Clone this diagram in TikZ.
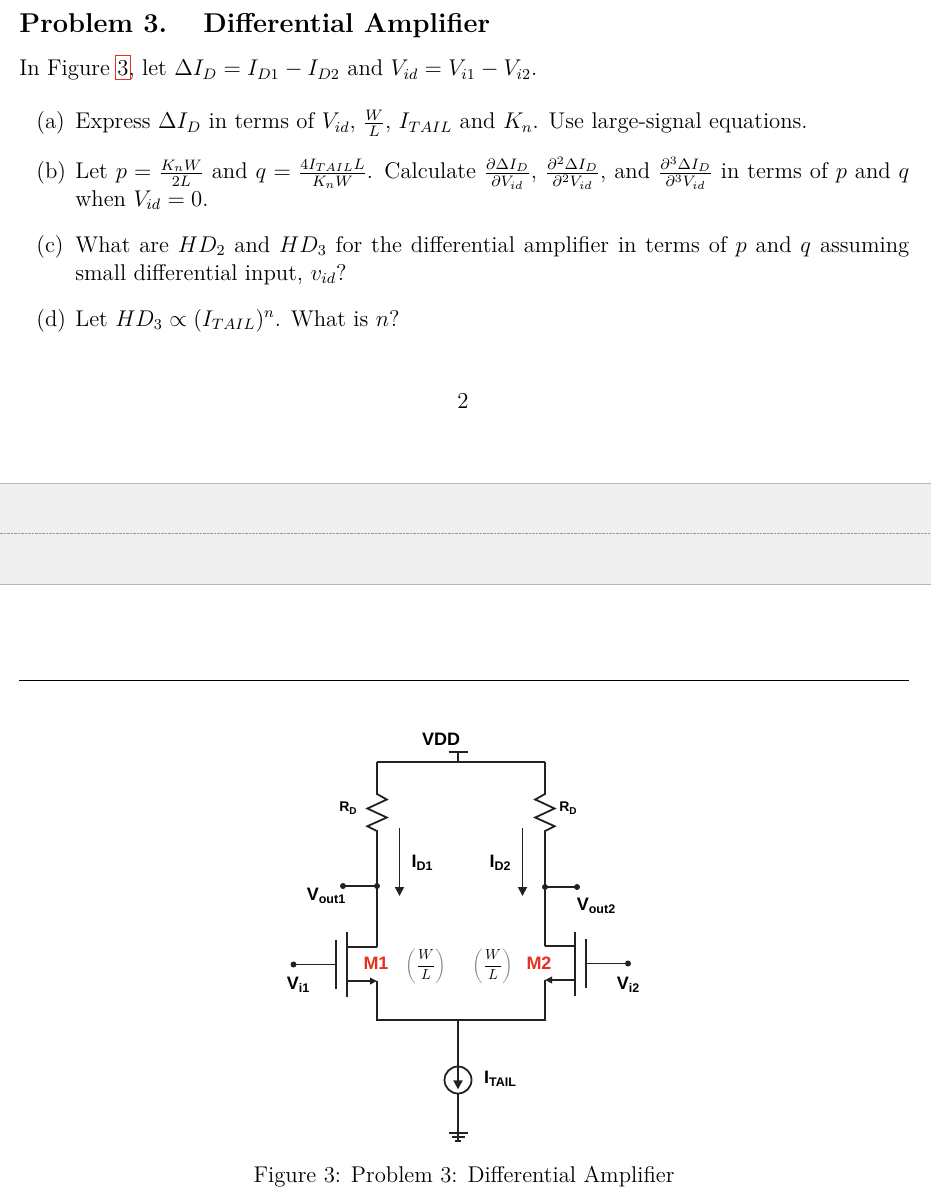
\documentclass[tikz,border=0pt]{standalone}
\usepackage{fontspec}
\usepackage{amsmath}
\usetikzlibrary{positioning,arrows.meta}
\newfontfamily\circfont{Liberation Sans}[Scale=1]
\definecolor{bandgray}{HTML}{EFEFEF}
\definecolor{bandline}{HTML}{B2B6BA}
\definecolor{wirecol}{HTML}{222222}
\definecolor{mosred}{HTML}{E8301E}
\newcommand{\fullline}[1]{\makebox[440.1pt][s]{#1}}
\newcommand{\csub}[2]{#1{\fontsize{12.5}{14}\selectfont\raisebox{-2.5pt}{#2}}}
\newcommand{\figref}{\rlap{\setlength{\fboxsep}{0.8pt}\setlength{\fboxrule}{0.45pt}\hspace*{-1.2pt}\fcolorbox{mosred}{white}{\rule[-0.8pt]{0pt}{10.5pt}\phantom{3}}}3}

\begin{document}
\begin{tikzpicture}[
				x=1pt, y=-1pt,
				body/.style={anchor=base west, inner sep=0pt, scale=1.895, font=\fontsize{12}{14.5}\selectfont},
				heading/.style={anchor=base west, inner sep=0pt, scale=1.89, font=\bfseries\fontsize{14.4}{18}\selectfont},
				circ/.style={inner sep=0pt, font=\circfont\bfseries\fontsize{18}{20}\selectfont},
				small/.style={inner sep=0pt, font=\circfont\bfseries\fontsize{14}{16}\selectfont},
				mos/.style={inner sep=0pt, text=mosred, font=\circfont\bfseries\fontsize{18}{20}\selectfont},
				ratio/.style={inner sep=0pt, scale=1.45},
				wire/.style={draw=wirecol, line width=1.8pt},
				dot/.style={circle, fill=wirecol, inner sep=0pt, minimum size=6pt},
				head/.style={-{Triangle[length=9pt,width=9pt]}},
				smallhead/.style={-{Triangle[length=7pt,width=6.5pt]}}
			]
			\useasboundingbox (0,0) rectangle (931,1198);
			\fill[white] (0,0) rectangle (931,1198);

			\node[heading] (title) at (19,33) {Problem 3.};
			\node[heading] (titletext) at (203,33) {Differential Amplifier};
			\node[body] (intro) at (19,76) {In Figure \figref, let $\Delta I_D=I_{D1}-I_{D2}$ and $V_{id}=V_{i1}-V_{i2}$.};
			\node[body] (parta) at (36,129) {(a)};
			\node[body] (partatext) at (75,129) {Express $\Delta I_D$ in terms of $V_{id}$, $\frac{W}{L}$, $I_{TAIL}$ and $K_n$. Use large-signal equations.};
			\node[body] (partb) at (36,179) {(b)};
			\node[body] (partbtext) at (75,179) {\fullline{Let $p=\frac{K_nW}{2L}$ and $q=\frac{4I_{TAIL}L}{K_nW}$. Calculate $\frac{\partial\Delta I_D}{\partial V_{id}}$, $\frac{\partial^2\Delta I_D}{\partial^2V_{id}}$, and $\frac{\partial^3\Delta I_D}{\partial^3V_{id}}$ in terms of $p$ and $q$}};
			\node[body] (partbmore) at (75,206.5) {when $V_{id}=0$.};
			\node[body] (partc) at (36,252) {(c)};
			\node[body] (partctext) at (75,252) {\fullline{What are $HD_2$ and $HD_3$ for the differential amplifier in terms of $p$ and $q$ assuming}};
			\node[body] (partcmore) at (75,280) {small differential input, $v_{id}$?};
			\node[body] (partd) at (36,326) {(d)};
			\node[body] (partdtext) at (75,326) {Let $HD_3\propto(I_{TAIL})^n$. What is $n$?};
			\node[body, anchor=base] (pagenum) at (463,408) {2};

			\fill[bandgray] (0,483) rectangle (931,584);
			\draw[bandline, line width=0.8pt] (0,483) -- (931,483);
			\draw[bandline, line width=0.8pt] (0,584) -- (931,584);
			\draw[gray!80, line width=1pt, dash pattern=on 2.5pt off 1pt] (0,533.5) -- (931,533.5);
			\draw[black, line width=1pt] (19,680.5) -- (909,680.5);

			\coordinate (vddpin) at (458,752);
			\coordinate (vddjoin) at (458,762);
			\coordinate (topleft) at (377,762);
			\coordinate (topright) at (545,762);
			\coordinate (rdatop) at (377,794);
			\coordinate (rdabot) at (377,831);
			\coordinate (rdbtop) at (545,794);
			\coordinate (rdbbot) at (545,831);
			\coordinate (draina) at (377,947);
			\coordinate (drainb) at (545,946);
			\coordinate (sourcea) at (377,981);
			\coordinate (sourceb) at (545,980);
			\coordinate (botleft) at (377,1020);
			\coordinate (botright) at (545,1020);
			\coordinate (tailjoin) at (458,1020);
			\coordinate (gndpin) at (458,1142);
			\coordinate (channelatop) at (347,932);
			\coordinate (channelabot) at (347,997);
			\coordinate (channelbtop) at (575,932);
			\coordinate (channelbbot) at (575,996);
			\coordinate (gateatop) at (336,940);
			\coordinate (gateabot) at (336,989);
			\coordinate (gatebtop) at (586,939);
			\coordinate (gatebbot) at (586,988);

			\node[dot] (outadot) at (343,886) {};
			\node[dot] (joinadot) at (377,886) {};
			\node[dot] (joinbdot) at (545,887) {};
			\node[dot] (outbdot) at (577,887) {};
			\node[dot] (inadot) at (293.5,964.5) {};
			\node[dot] (inbdot) at (628,963.5) {};
			\node[draw=wirecol, line width=1.8pt, circle, minimum size=27pt, inner sep=0pt] (tailsrc) at (458,1080) {};

			\node[circ] (vdd) at (441,739) {VDD};
			\node[small] (rdaleft) at (348,808) {\csub{R}{\fontsize{10}{12}\selectfont D}};
			\node[small] (rdbright) at (568,808) {\csub{R}{\fontsize{10}{12}\selectfont D}};
			\node[circ] (ida) at (422,863) {\csub{I}{D1}};
			\node[circ] (idb) at (500,863) {\csub{I}{D2}};
			\node[circ] (vouta) at (326,896) {\csub{V}{out1}};
			\node[circ] (voutb) at (596,906) {\csub{V}{out2}};
			\node[circ] (vina) at (298,985) {\csub{V}{i1}};
			\node[circ] (vinb) at (628,985) {\csub{V}{i2}};
			\node[mos] (moda) at (376,963) {M1};
			\node[mos] (modb) at (539,963) {M2};
			\node[ratio] (ratioa) at (426,966) {$\color{gray}\left(\color{black}\dfrac{W}{L}\color{gray}\right)$};
			\node[ratio] (ratiob) at (493,966) {$\color{gray}\left(\color{black}\dfrac{W}{L}\color{gray}\right)$};
			\node[circ] (itail) at (500,1079) {\csub{I}{TAIL}};

			\begin{scope}[wire, line join=miter]
			\draw (topleft) -- (topright);
			\draw (vddjoin) -- (vddpin);
			\draw ([xshift=-9.5pt]vddpin) -- ([xshift=9.5pt]vddpin);
			\draw (draina) -- (rdabot) -- ++(-9.6,-4.8) -- ++(19.4,-8.7) -- ++(-19.4,-9) -- ++(19.4,-9) -- (rdatop) -- (topleft);
			\draw (drainb) -- (rdbbot) -- ++(9.6,-4.8) -- ++(-19.4,-8.7) -- ++(19.4,-9) -- ++(-19.4,-9) -- (rdbtop) -- (topright);
			\draw (outadot.center) -- (joinadot.center);
			\draw (joinbdot.center) -- (outbdot.center);
			\draw (channelatop) -- (channelabot);
			\draw (gateatop) -- (gateabot);
			\draw (channelbtop) -- (channelbbot);
			\draw (gatebtop) -- (gatebbot);
			\draw (inadot.center) -- (gateatop |- inadot);
			\draw (inbdot.center) -- (gatebtop |- inbdot);
			\draw (channelatop |- draina) -- (draina);
			\draw (channelbtop |- drainb) -- (drainb);
			\draw[smallhead] (channelatop |- sourcea) -- (sourcea);
			\draw[smallhead] (channelbtop |- sourceb) -- (sourceb);
			\draw (sourcea) -- (botleft) -- (botright) -- (sourceb);
			\draw (tailjoin) -- (tailsrc.north);
			\draw (tailsrc.south) -- (gndpin);
			\draw[head] (tailsrc.north) -- ([yshift=5pt]tailsrc.south);
			\draw ([xshift=-9.5pt,yshift=9pt]gndpin) -- ([xshift=9.5pt,yshift=9pt]gndpin);
			\draw ([xshift=-6.5pt,yshift=5pt]gndpin) -- ([xshift=6.5pt,yshift=5pt]gndpin);
			\draw ([xshift=-3pt,yshift=1pt]gndpin) -- ([xshift=3pt,yshift=1pt]gndpin);
			\end{scope}

			\coordinate (arrowatop) at (399.5,828);
			\coordinate (arrowabot) at (399.5,896);
			\coordinate (arrowbtop) at (522.5,828);
			\coordinate (arrowbbot) at (522.5,896);
			\draw[wire, head] (arrowatop) -- (arrowabot);
			\draw[wire, head] (arrowbtop) -- (arrowbbot);

			\node[body, anchor=base] (caption) at (464,1182) {Figure 3: Problem 3: Differential Amplifier};
			\end{tikzpicture}
\end{document}
